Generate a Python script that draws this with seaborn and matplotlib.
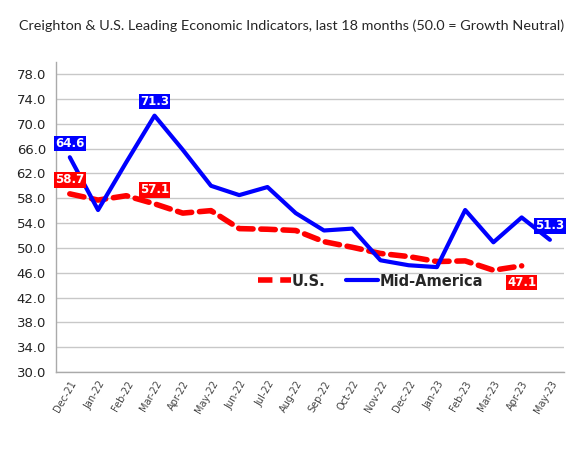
import pandas as pd
import seaborn as sns
import matplotlib.pyplot as plt
from matplotlib.lines import Line2D

months = ['Dec-21', 'Jan-22', 'Feb-22', 'Mar-22', 'Apr-22', 'May-22', 'Jun-22', 'Jul-22', 'Aug-22',
          'Sep-22', 'Oct-22', 'Nov-22', 'Dec-22', 'Jan-23', 'Feb-23', 'Mar-23', 'Apr-23', 'May-23']
mid_america = [64.6, 56.1, 63.8, 71.3, 65.8, 60.0, 58.5, 59.8, 55.6, 52.8, 53.1, 48.0, 47.2, 46.9, 56.1, 50.9, 54.9, 51.3]
us = [58.7, 57.7, 58.4, 57.1, 55.6, 56.0, 53.1, 53.0, 52.8, 51.0, 50.1, 49.1, 48.6, 47.8, 47.9, 46.4, 47.1, None]

# points that carry a value label (month index)
blue_labels = [0, 3, 17]
red_labels = [0, 3, 16]

df = pd.DataFrame({'x': range(len(months)), 'Month': months,
                   'Mid-America': mid_america, 'U.S.': us})

sns.set_style('white')
plt.rcParams['font.family'] = ['DejaVu Sans']

fig = plt.figure(figsize=(5.77, 4.5), dpi=100)
ax = fig.add_axes([0.0965, 0.1733, 0.881, 0.6897])

sns.lineplot(data=df, x='x', y='U.S.', ax=ax, color='#ff0000', linewidth=4,
             linestyle=(0, (2.6, 1.4)), dash_capstyle='round', zorder=3)
sns.lineplot(data=df, x='x', y='Mid-America', ax=ax, color='#0000ff', linewidth=3,
             zorder=4)

ax.set_xlim(-0.5, len(months) - 0.5)
ax.set_ylim(30, 80)
ax.set_yticks([30 + 4 * i for i in range(13)])
ax.set_yticklabels([f'{30 + 4 * i:.1f}' for i in range(13)], fontsize=9.5, color='#222222')
ax.yaxis.grid(True, color='#c8c8c8', linewidth=1)
ax.set_axisbelow(True)

ax.set_xticks(range(len(months)))
ax.set_xticklabels(months, rotation=60, ha='right', rotation_mode='anchor',
                   fontsize=7, color='#444444')
ax.set_xticks([i - 0.5 for i in range(len(months) + 1)], minor=True)
ax.tick_params(axis='x', which='major', length=0, pad=5)
ax.tick_params(axis='x', which='minor', length=4, color='#aaaaaa', direction='out')
ax.tick_params(axis='y', length=4, color='#aaaaaa', direction='out', pad=3)
ax.set_xlabel('')
ax.set_ylabel('')

for s in ['top', 'right']:
    ax.spines[s].set_visible(False)
for s in ['left', 'bottom']:
    ax.spines[s].set_color('#aaaaaa')
    ax.spines[s].set_linewidth(1)

for i in blue_labels:
    ax.annotate(f'{mid_america[i]:.1f}', (i, mid_america[i]), xytext=(0, 10),
                textcoords='offset points', ha='center', va='center',
                fontsize=8.5, fontweight='bold', color='white', zorder=6,
                bbox=dict(boxstyle='square,pad=0.1', fc='#0000ff', ec='none'))
for i in red_labels:
    off = -12 if i == 16 else 10
    ax.annotate(f'{us[i]:.1f}', (i, us[i]), xytext=(0, off),
                textcoords='offset points', ha='center', va='center',
                fontsize=8.5, fontweight='bold', color='white', zorder=6,
                bbox=dict(boxstyle='square,pad=0.1', fc='#ff0000', ec='none'))

handles = [Line2D([], [], color='#ff0000', linewidth=4, linestyle=(0, (2.6, 1.4))),
           Line2D([], [], color='#0000ff', linewidth=3)]
ax.legend(handles, ['U.S.', 'Mid-America'], ncol=2, frameon=False,
          loc='center', bbox_to_anchor=(0.62, 0.293), handlelength=2.2,
          handletextpad=0.1, columnspacing=1.4, prop={'weight': 'bold', 'size': 10.5})

fig.text(0.505, 0.943, 'Creighton & U.S. Leading Economic Indicators, last 18 months (50.0 = Growth Neutral)',
         ha='center', va='center', fontsize=10.4, family=['Lato', 'DejaVu Sans'])

fig.savefig('out.png', dpi=100)
